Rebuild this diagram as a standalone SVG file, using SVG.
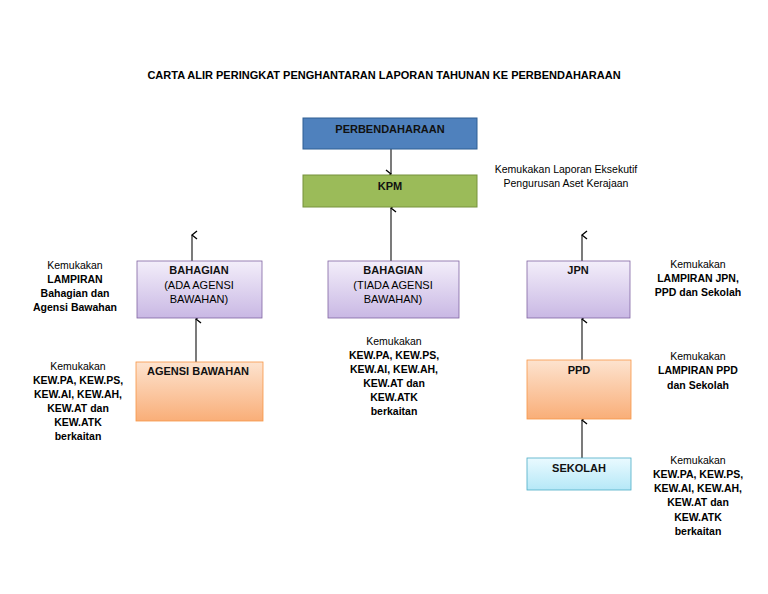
<svg xmlns="http://www.w3.org/2000/svg" width="768" height="594" viewBox="0 0 768 594">
<style>
text{font-family:"Liberation Sans",Arial,sans-serif;font-size:10.5px;fill:#000;text-anchor:middle}
.b{font-weight:bold}
.t{font-weight:bold;font-size:11px}
.nl{font-weight:bold;font-size:11px;fill:#111}
.c line{stroke:#333;stroke-width:1.3;marker-end:url(#ah)}
</style>
<defs>
<marker id="ah" markerWidth="10" markerHeight="10" refX="5" refY="1" orient="auto" markerUnits="userSpaceOnUse" viewBox="0 0 10 10"><path d="M1,6 L5,1 L9,6" fill="none" stroke="#000" stroke-width="1.4"/></marker>
<linearGradient id="lav" x1="0" y1="0" x2="0" y2="1"><stop offset="0" stop-color="#f3eefa"/><stop offset="1" stop-color="#c9b8e4"/></linearGradient>
<linearGradient id="org" x1="0" y1="0" x2="0" y2="1"><stop offset="0" stop-color="#fde3cf"/><stop offset="1" stop-color="#f9ae78"/></linearGradient>
<linearGradient id="cy" x1="0" y1="0" x2="0" y2="1"><stop offset="0" stop-color="#eafaff"/><stop offset="1" stop-color="#b5e8f7"/></linearGradient>
</defs>
<rect width="768" height="594" fill="#fff"/>
<text class="t" x="384" y="79">CARTA ALIR PERINGKAT PENGHANTARAN LAPORAN TAHUNAN KE PERBENDAHARAAN</text>
<g class="c">
<line x1="391" y1="149" x2="391" y2="174"/>
<line x1="192" y1="261" x2="192" y2="235"/>
<line x1="391" y1="261" x2="391" y2="208"/>
<line x1="582" y1="261" x2="582" y2="235"/>
<line x1="196" y1="362" x2="196" y2="319"/>
<line x1="582" y1="360" x2="582" y2="319"/>
<line x1="582" y1="458" x2="582" y2="420"/>
</g>
<g id="perbendaharaan"><rect x="303" y="118" width="174" height="31" fill="#4f81bd" stroke="#2f5f94"/><text class="nl" x="390" y="133">PERBENDAHARAAN</text></g>
<g id="kpm"><rect x="303" y="175" width="174" height="32" fill="#9bbb59" stroke="#76923c"/><text class="nl" x="390" y="190">KPM</text></g>
<g id="bahagian1"><rect x="137" y="261" width="125" height="57" fill="url(#lav)" stroke="#8064a2" stroke-width="0.8"/><text class="nl" x="199" y="274">BAHAGIAN</text><text x="199" y="289" style="font-size:11px">(ADA AGENSI</text><text x="199" y="303" style="font-size:11px">BAWAHAN)</text></g>
<g id="bahagian2"><rect x="328" y="261" width="131" height="57" fill="url(#lav)" stroke="#8064a2" stroke-width="0.8"/><text class="nl" x="393" y="274">BAHAGIAN</text><text x="393" y="289" style="font-size:11px">(TIADA AGENSI</text><text x="393" y="303" style="font-size:11px">BAWAHAN)</text></g>
<g id="jpn"><rect x="527" y="261" width="103" height="57" fill="url(#lav)" stroke="#8064a2" stroke-width="0.8"/><text class="nl" x="578" y="274">JPN</text></g>
<g id="agensi"><rect x="136" y="362" width="127" height="59" fill="url(#org)" stroke="#f79646" stroke-width="0.8"/><text class="nl" x="198" y="375">AGENSI BAWAHAN</text></g>
<g id="ppd"><rect x="527" y="360" width="104" height="59" fill="url(#org)" stroke="#f79646" stroke-width="0.8"/><text class="nl" x="579" y="374">PPD</text></g>
<g id="sekolah"><rect x="527" y="458" width="104" height="32" fill="url(#cy)" stroke="#4bacc6" stroke-width="0.8"/><text class="nl" x="579" y="472">SEKOLAH</text></g>
<g id="labels">
<text x="566" y="173">Kemukakan Laporan Eksekutif</text>
<text x="566" y="187">Pengurusan Aset Kerajaan</text>
<text x="75" y="269">Kemukakan</text><text class="b" x="75" y="283">LAMPIRAN</text><text class="b" x="75" y="297">Bahagian dan</text><text class="b" x="75" y="311">Agensi Bawahan</text>
<text x="78" y="370">Kemukakan</text><text class="b" x="78" y="384">KEW.PA, KEW.PS,</text><text class="b" x="78" y="398">KEW.AI, KEW.AH,</text><text class="b" x="78" y="412">KEW.AT dan</text><text class="b" x="78" y="426">KEW.ATK</text><text class="b" x="78" y="440">berkaitan</text>
<text x="394" y="345">Kemukakan</text><text class="b" x="394" y="359">KEW.PA, KEW.PS,</text><text class="b" x="394" y="373">KEW.AI, KEW.AH,</text><text class="b" x="394" y="387">KEW.AT dan</text><text class="b" x="394" y="401">KEW.ATK</text><text class="b" x="394" y="415">berkaitan</text>
<text x="698" y="268">Kemukakan</text><text class="b" x="698" y="282">LAMPIRAN JPN,</text><text class="b" x="698" y="296">PPD dan Sekolah</text>
<text x="698" y="360">Kemukakan</text><text class="b" x="698" y="374">LAMPIRAN PPD</text><text class="b" x="698" y="389">dan Sekolah</text>
<text x="698" y="464">Kemukakan</text><text class="b" x="698" y="478">KEW.PA, KEW.PS,</text><text class="b" x="698" y="492">KEW.AI, KEW.AH,</text><text class="b" x="698" y="506">KEW.AT dan</text><text class="b" x="698" y="521">KEW.ATK</text><text class="b" x="698" y="535">berkaitan</text>
</g>
</svg>
